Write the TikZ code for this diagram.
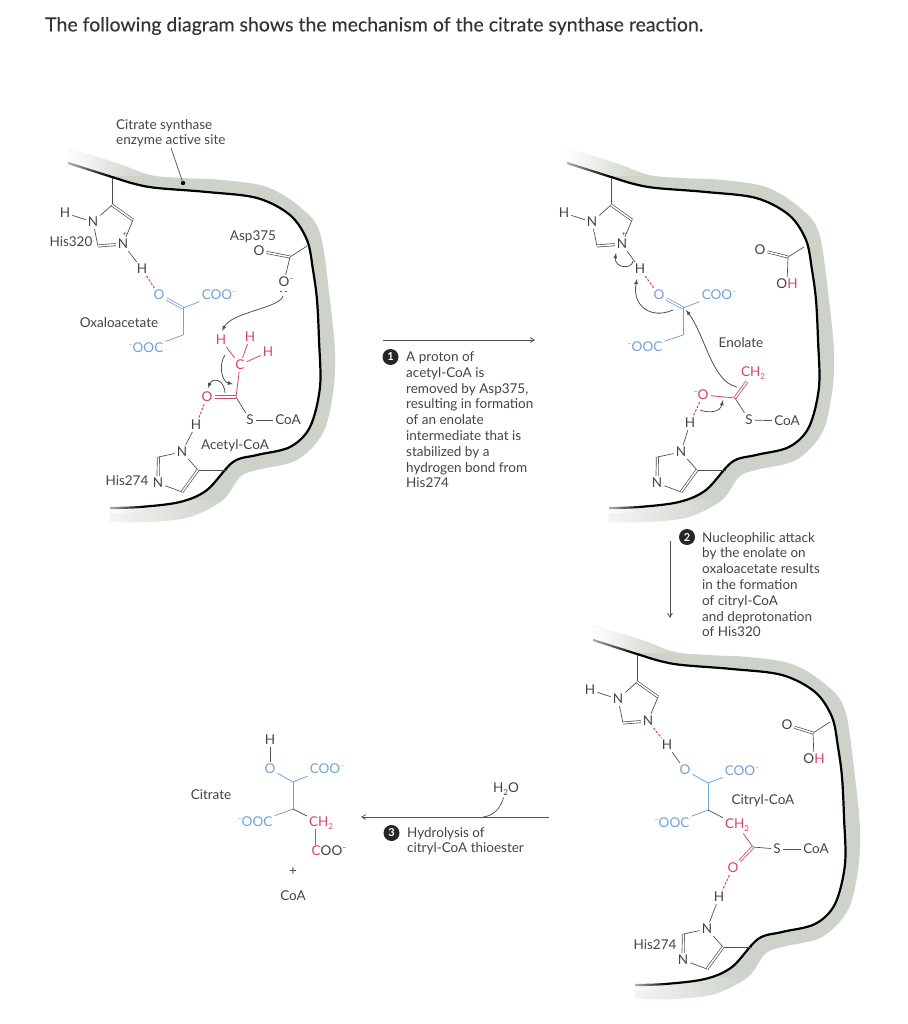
\documentclass[tikz,border=0pt]{standalone}
\usepackage{fontspec}
\setmainfont{Lato}
\newfontfamily\titlefont[FakeBold=0.1]{Lato}
\usetikzlibrary{arrows,fadings}

\definecolor{inkgrey}{HTML}{444444}
\definecolor{bondgrey}{HTML}{505050}
\definecolor{wallgrey}{HTML}{CDD3CA}
\definecolor{blueatom}{HTML}{74A2D8}
\definecolor{redatom}{HTML}{D9426C}

\newcommand{\mns}{\raisebox{0.42em}{\scriptsize −}}
\newcommand{\lowtwo}{\raisebox{-0.22em}{\footnotesize 2}}

\begin{document}
\begin{tikzpicture}
[x=1pt,y=-1pt,
atom/.style={inner sep=2pt,text=inkgrey,font=\fontsize{13.5}{15.8}\selectfont},
atomblue/.style={atom,text=blueatom},
atomred/.style={atom,text=redatom},
caption/.style={atom,inner sep=0pt},
steptext/.style={caption,anchor=north west,align=left},
stepnum/.style={circle,fill=black!85,text=white,inner sep=0pt,minimum size=16pt,font=\bfseries\fontsize{11}{11}\selectfont},
bond/.style={draw=bondgrey,line width=0.7pt},
bondblue/.style={draw=blueatom,line width=0.8pt},
bondred/.style={draw=redatom,line width=0.8pt},
dbl/.style={double=white,double distance=1.5pt},
hbond/.style={draw=redatom,line width=1pt,dash pattern=on 2.5pt off 1.5pt},
curly/.style={draw=bondgrey,line width=0.8pt,-latex},
react/.style={draw=bondgrey,line width=0.8pt,-angle 60},
fadeout/.style={white,path fading=east}]

\def \wallouter {(68,148) (117,163) (150,175) (183,178) (223,180) (267,187) (300,207) (320,233) (330,300) (335,353) (333,393) (323,433) (297,460) (257,470) (240,477) (223,500) (190,517) (150,522) (110,522)}
\def \wallinner {(110,508) (140,507) (180,502) (207,490) (233,462) (257,455) (290,447) (310,427) (320,387) (319,340) (317,300) (313,270) (307,240) (290,215) (257,198) (207,192) (157,188) (135,184) (112,177) (68,163)}

\useasboundingbox (0,0) rectangle (907,1024);

% Drawing the title
\node[caption,anchor=west,font=\titlefont\fontsize{19.5}{24}\selectfont,text=black!80] (title) at (45,26) {The following diagram shows the mechanism of the citrate synthase reaction.};

% Drawing the three pockets, each with its two histidines
\foreach \p/\dx/\dy in {a/0/0,b/499/0,c/525/477} {
	\begin{scope}[shift={(\dx,\dy)}]
	\fill[wallgrey] plot[smooth,tension=0.55] coordinates {\wallouter} -- plot[smooth,tension=0.55] coordinates {\wallinner} -- cycle;
	\fill[fadeout] (50,140) rectangle (150,176);
	\fill[fadeout] (78,500) rectangle (222,530);
	\draw[black,line width=2.2pt] plot[smooth,tension=0.55] coordinates {\wallinner};
	\fill[fadeout] (50,150) rectangle (110,178);
	\fill[fadeout] (96,502) rectangle (142,513);

	\coordinate (wallA\p) at (112,178);
	\coordinate (ringA\p) at (112,205);
	\coordinate (ringB\p) at (133,220);
	\coordinate (ringC\p) at (98,246);
	\node[atom] (nitA\p) at (93,222) {N};
	\node[atom] (nitB\p) at (123,244) {N};
	\node[atom] (hydA\p) at (65,213) {H};
	\draw[bond] (wallA\p) -- (ringA\p);
	\draw[bond] (ringA\p) -- (nitA\p);
	\draw[bond,dbl] (ringA\p) -- (ringB\p);
	\draw[bond] (ringB\p) -- (nitB\p);
	\draw[bond] (nitA\p) -- (ringC\p);
	\draw[bond,dbl] (ringC\p) -- (nitB\p);
	\draw[bond] (hydA\p) -- (nitA\p);

	\coordinate (wallB\p) at (227,470);
	\coordinate (ringD\p) at (198,470);
	\coordinate (ringE\p) at (182,492);
	\coordinate (ringF\p) at (158.4,457);
	\node[atom] (nitC\p) at (182,452) {N};
	\node[atom] (nitD\p) at (158,483) {N};
	\draw[bond] (wallB\p) -- (ringD\p);
	\draw[bond] (ringD\p) -- (nitC\p);
	\draw[bond,dbl] (ringD\p) -- (ringE\p);
	\draw[bond] (ringE\p) -- (nitD\p);
	\draw[bond,dbl] (nitD\p) -- (ringF\p);
	\draw[bond] (ringF\p) -- (nitC\p);
	\end{scope}
}

% Drawing the first pocket
\node[caption,anchor=north west,align=left] (sitelabel) at (116,119) {Citrate synthase\\enzyme active site};
\coordinate (sitestart) at (171,148);
\coordinate (sitedot) at (183,183);
\fill[black] (sitedot) circle (2.2);
\draw[bond] (sitestart) -- (sitedot);

\node[atom,font=\fontsize{7}{7}\selectfont] (plusa) at (125,234) {+};
\node[atom] (his320) at (71,242) {His320};
\node[atom] (hyda) at (142,269) {H};
\draw[bond] (nitBa) -- (hyda);

\node[atomblue] (oxoa) at (159,295) {O};
\coordinate (carba) at (183,308);
\coordinate (carbb) at (183,335);
\node[atomblue] (cooa) at (217,295) {COO\rlap{\mns}};
\node[atomblue] (oocb) at (148,348) {\llap{\mns}OOC};
\node[atom] (oxaloacetate) at (119,322.5) {Oxaloacetate};
\draw[hbond] (hyda) -- (oxoa);
\draw[bondblue,dbl] (oxoa) -- (carba);
\draw[bondblue] (carba) -- (cooa);
\draw[bondblue] (carba) -- (carbb);
\draw[bondblue] (carbb) -- (oocb);

\node[atom] (asp375) at (253,236.5) {Asp375};
\coordinate (wallc) at (307,246);
\coordinate (carbc) at (290,257);
\node[atom] (oxob) at (259,251) {O};
\node[atom] (oxoc) at (284,282) {O\rlap{\mns}};
\coordinate (lonea) at (281,291.5);
\coordinate (loneb) at (286,291.5);
\fill[inkgrey] (lonea) circle (0.9) (loneb) circle (0.9);
\draw[bond] (wallc) -- (carbc);
\draw[bond,dbl] (carbc) -- (oxob);
\draw[bond] (carbc) -- (oxoc);

\node[atomred] (hydb) at (221,340) {H};
\node[atomred] (hydc) at (250,337) {H};
\node[atomred] (hydd) at (268,352) {H};
\node[atomred] (carbd) at (240,365) {C};
\coordinate (carbe) at (236,397);
\node[atomred] (oxod) at (207,397) {O};
\node[atom] (sula) at (250,420) {S};
\node[atom] (coaa) at (288,420) {CoA};
\node[atom] (hyde) at (196,425) {H};
\node[atom] (acetylcoa) at (235,445.5) {Acetyl-CoA};
\node[atom] (his274a) at (127,481) {His274};
\draw[bondred] (hydb) -- (carbd);
\draw[bondred] (hydc) -- (carbd);
\draw[bondred] (hydd) -- (carbd);
\draw[bondred] (carbd) -- (carbe);
\draw[bondred,dbl] (oxod) -- (carbe);
\draw[bond] (carbe) -- (sula);
\draw[bond] (sula) -- (coaa);
\draw[hbond] (oxod) -- (hyde);
\draw[bond] (hyde) -- (nitCa);

\coordinate (curlya) at (283,296);
\coordinate (curlyb) at (222,331);
\coordinate (curlyc) at (225,355);
\coordinate (curlyd) at (233,384);
\coordinate (curlye) at (225,393);
\coordinate (curlyf) at (208,388);
\draw[curly] (curlya) .. controls (280,308) and (232,312) .. (curlyb);
\draw[curly] (curlyc) .. controls (218,365) and (222,382) .. (curlyd);
\draw[curly] (curlye) .. controls (224,378) and (212,378) .. (curlyf);

% Drawing the second pocket
\node[atom,font=\fontsize{7}{7}\selectfont] (plusb) at (624,234) {+};
\node[atom] (hydf) at (640,269) {H};
\draw[bond] (nitBb) -- (hydf);

\node[atomblue] (oxoe) at (659,295) {O};
\coordinate (carbf) at (683,308);
\coordinate (carbg) at (683,335);
\node[atomblue] (coob) at (717,295) {COO\rlap{\mns}};
\node[atomblue] (oocc) at (647,347) {\llap{\mns}OOC};
\node[atom] (enolate) at (741,342.5) {Enolate};
\draw[hbond] (hydf) -- (oxoe);
\draw[bondblue,dbl] (oxoe) -- (carbf);
\draw[bondblue] (carbf) -- (coob);
\draw[bondblue] (carbf) -- (carbg);
\draw[bondblue] (carbg) -- (oocc);

\coordinate (walld) at (804,247);
\coordinate (carbh) at (788,257);
\node[atom] (oxof) at (760,250) {O};
\node[atom] (oxog) at (787,284) {O\textcolor{redatom}{H}};
\draw[bond] (walld) -- (carbh);
\draw[bond,dbl] (carbh) -- (oxof);
\draw[bond] (carbh) -- (oxog);

\node[atomred] (cha) at (753,373) {CH\lowtwo};
\coordinate (carbi) at (735,398);
\node[atomred] (oxoh) at (703,395) {\llap{\mns}O};
\node[atom] (sulb) at (749,420) {S};
\node[atom] (coab) at (787,421) {CoA};
\node[atom] (hydg) at (690,423) {H};
\draw[bondred,dbl] (carbi) -- (cha);
\draw[bondred] (oxoh) -- (carbi);
\draw[bond] (carbi) -- (sulb);
\draw[bond] (sulb) -- (coab);
\draw[hbond] (oxoh) -- (hydg);
\draw[bond] (hydg) -- (nitCb);

\coordinate (curlyg) at (633,261);
\coordinate (curlyh) at (616,253);
\coordinate (curlyi) at (673,310);
\coordinate (curlyj) at (637,279);
\coordinate (curlyk) at (737,387);
\coordinate (curlyl) at (686,310);
\coordinate (curlym) at (700,410);
\coordinate (curlyn) at (723,400);
\draw[curly] (curlyg) .. controls (632,270) and (614,268) .. (curlyh);
\draw[curly] (curlyi) .. controls (650,320) and (632,305) .. (curlyj);
\draw[curly] (curlyk) .. controls (712,382) and (705,335) .. (curlyl);
\draw[curly] (curlym) .. controls (708,413) and (720,413) .. (curlyn);

% Drawing the third pocket
\node[atom] (hydh) at (667,745) {H};
\node[atomblue] (oxoi) at (685,770) {O};
\coordinate (carbj) at (708,783);
\coordinate (carbk) at (708,810);
\node[atomblue] (cooc) at (740,771) {COO\rlap{\mns}};
\node[atomblue] (oocd) at (674,823) {\llap{\mns}OOC};
\node[atom] (citrylcoa) at (763,800.5) {Citryl-CoA};
\draw[hbond] (nitBc) -- (hydh);
\draw[bond] (hydh) -- (oxoi);
\draw[bondblue] (oxoi) -- (carbj);
\draw[bondblue] (carbj) -- (cooc);
\draw[bondblue] (carbj) -- (carbk);
\draw[bondblue] (carbk) -- (oocd);

\coordinate (walle) at (830,722);
\coordinate (carbl) at (813,733);
\node[atom] (oxoj) at (787,725) {O};
\node[atom] (oxok) at (814,759) {O\textcolor{redatom}{H}};
\draw[bond] (walle) -- (carbl);
\draw[bond,dbl] (carbl) -- (oxoj);
\draw[bond] (carbl) -- (oxok);

\node[atomred] (chb) at (737,825) {CH\lowtwo};
\coordinate (carbm) at (753,847);
\node[atomred] (oxol) at (733,868) {O};
\node[atom] (sulc) at (777,849) {S};
\node[atom] (coac) at (816,849) {CoA};
\node[atom] (hydi) at (719,897) {H};
\node[atom] (his274c) at (655,945) {His274};
\draw[bond] (carbk) -- (chb);
\draw[bondred] (chb) -- (carbm);
\draw[bondred,dbl] (oxol) -- (carbm);
\draw[bond] (carbm) -- (sulc);
\draw[bond] (sulc) -- (coac);
\draw[hbond] (oxol) -- (hydi);
\draw[bond] (hydi) -- (nitCc);

% Drawing citrate
\node[atom] (citrate) at (211,794.5) {Citrate};
\node[atom] (hydj) at (270,740) {H};
\node[atomblue] (oxom) at (270,769) {O};
\coordinate (carbn) at (293,782);
\coordinate (carbo) at (293,809);
\node[atomblue] (cood) at (325,769) {COO\rlap{\mns}};
\node[atomblue] (oocf) at (257,822) {\llap{\mns}OOC};
\node[atomred] (chc) at (321,823) {CH\lowtwo};
\node[atom] (cooe) at (327,851) {\textcolor{redatom}{C}OO\rlap{\mns}};
\node[atom] (plusc) at (293,872) {+};
\node[atom] (coad) at (293,896) {CoA};
\draw[bond] (hydj) -- (oxom);
\draw[bondblue] (oxom) -- (carbn);
\draw[bondblue] (carbn) -- (cood);
\draw[bondblue] (carbn) -- (carbo);
\draw[bondblue] (carbo) -- (oocf);
\draw[bond] (carbo) -- (chc);
\coordinate (cbonda) at (315,829);
\coordinate (cbondb) at (315,845);
\draw[bondred] (cbonda) -- (cbondb);

% Drawing the reaction arrows and their steps
\coordinate (stepAa) at (383,340);
\coordinate (stepAb) at (535,340);
\draw[react] (stepAa) -- (stepAb);
\node[stepnum] (numa) at (390.5,357) {1};
\node[steptext] (stepa) at (406,351.5) {A proton of\\acetyl-CoA is\\removed by Asp375,\\resulting in formation\\of an enolate\\intermediate that is\\stabilized by a\\hydrogen bond from\\His274};

\coordinate (stepBa) at (670,541);
\coordinate (stepBb) at (670,618);
\draw[react] (stepBa) -- (stepBb);
\node[stepnum] (numb) at (687,537) {2};
\node[steptext] (stepb) at (702,532) {Nucleophilic attack\\by the enolate on\\oxaloacetate results\\in the formation\\of citryl-CoA\\and deprotonation\\of His320};

\coordinate (stepCa) at (549,817);
\coordinate (stepCb) at (361,817);
\coordinate (stepCc) at (483,817);
\draw[react] (stepCa) -- (stepCb);
\node[atom] (water) at (506,789) {H\lowtwo O};
\draw[bond] (water) .. controls (500,810) and (492,816) .. (stepCc);
\node[stepnum] (numc) at (391.5,833) {3};
\node[steptext] (stepc) at (407,827) {Hydrolysis of\\citryl-CoA thioester};
\end{tikzpicture}
\end{document}
